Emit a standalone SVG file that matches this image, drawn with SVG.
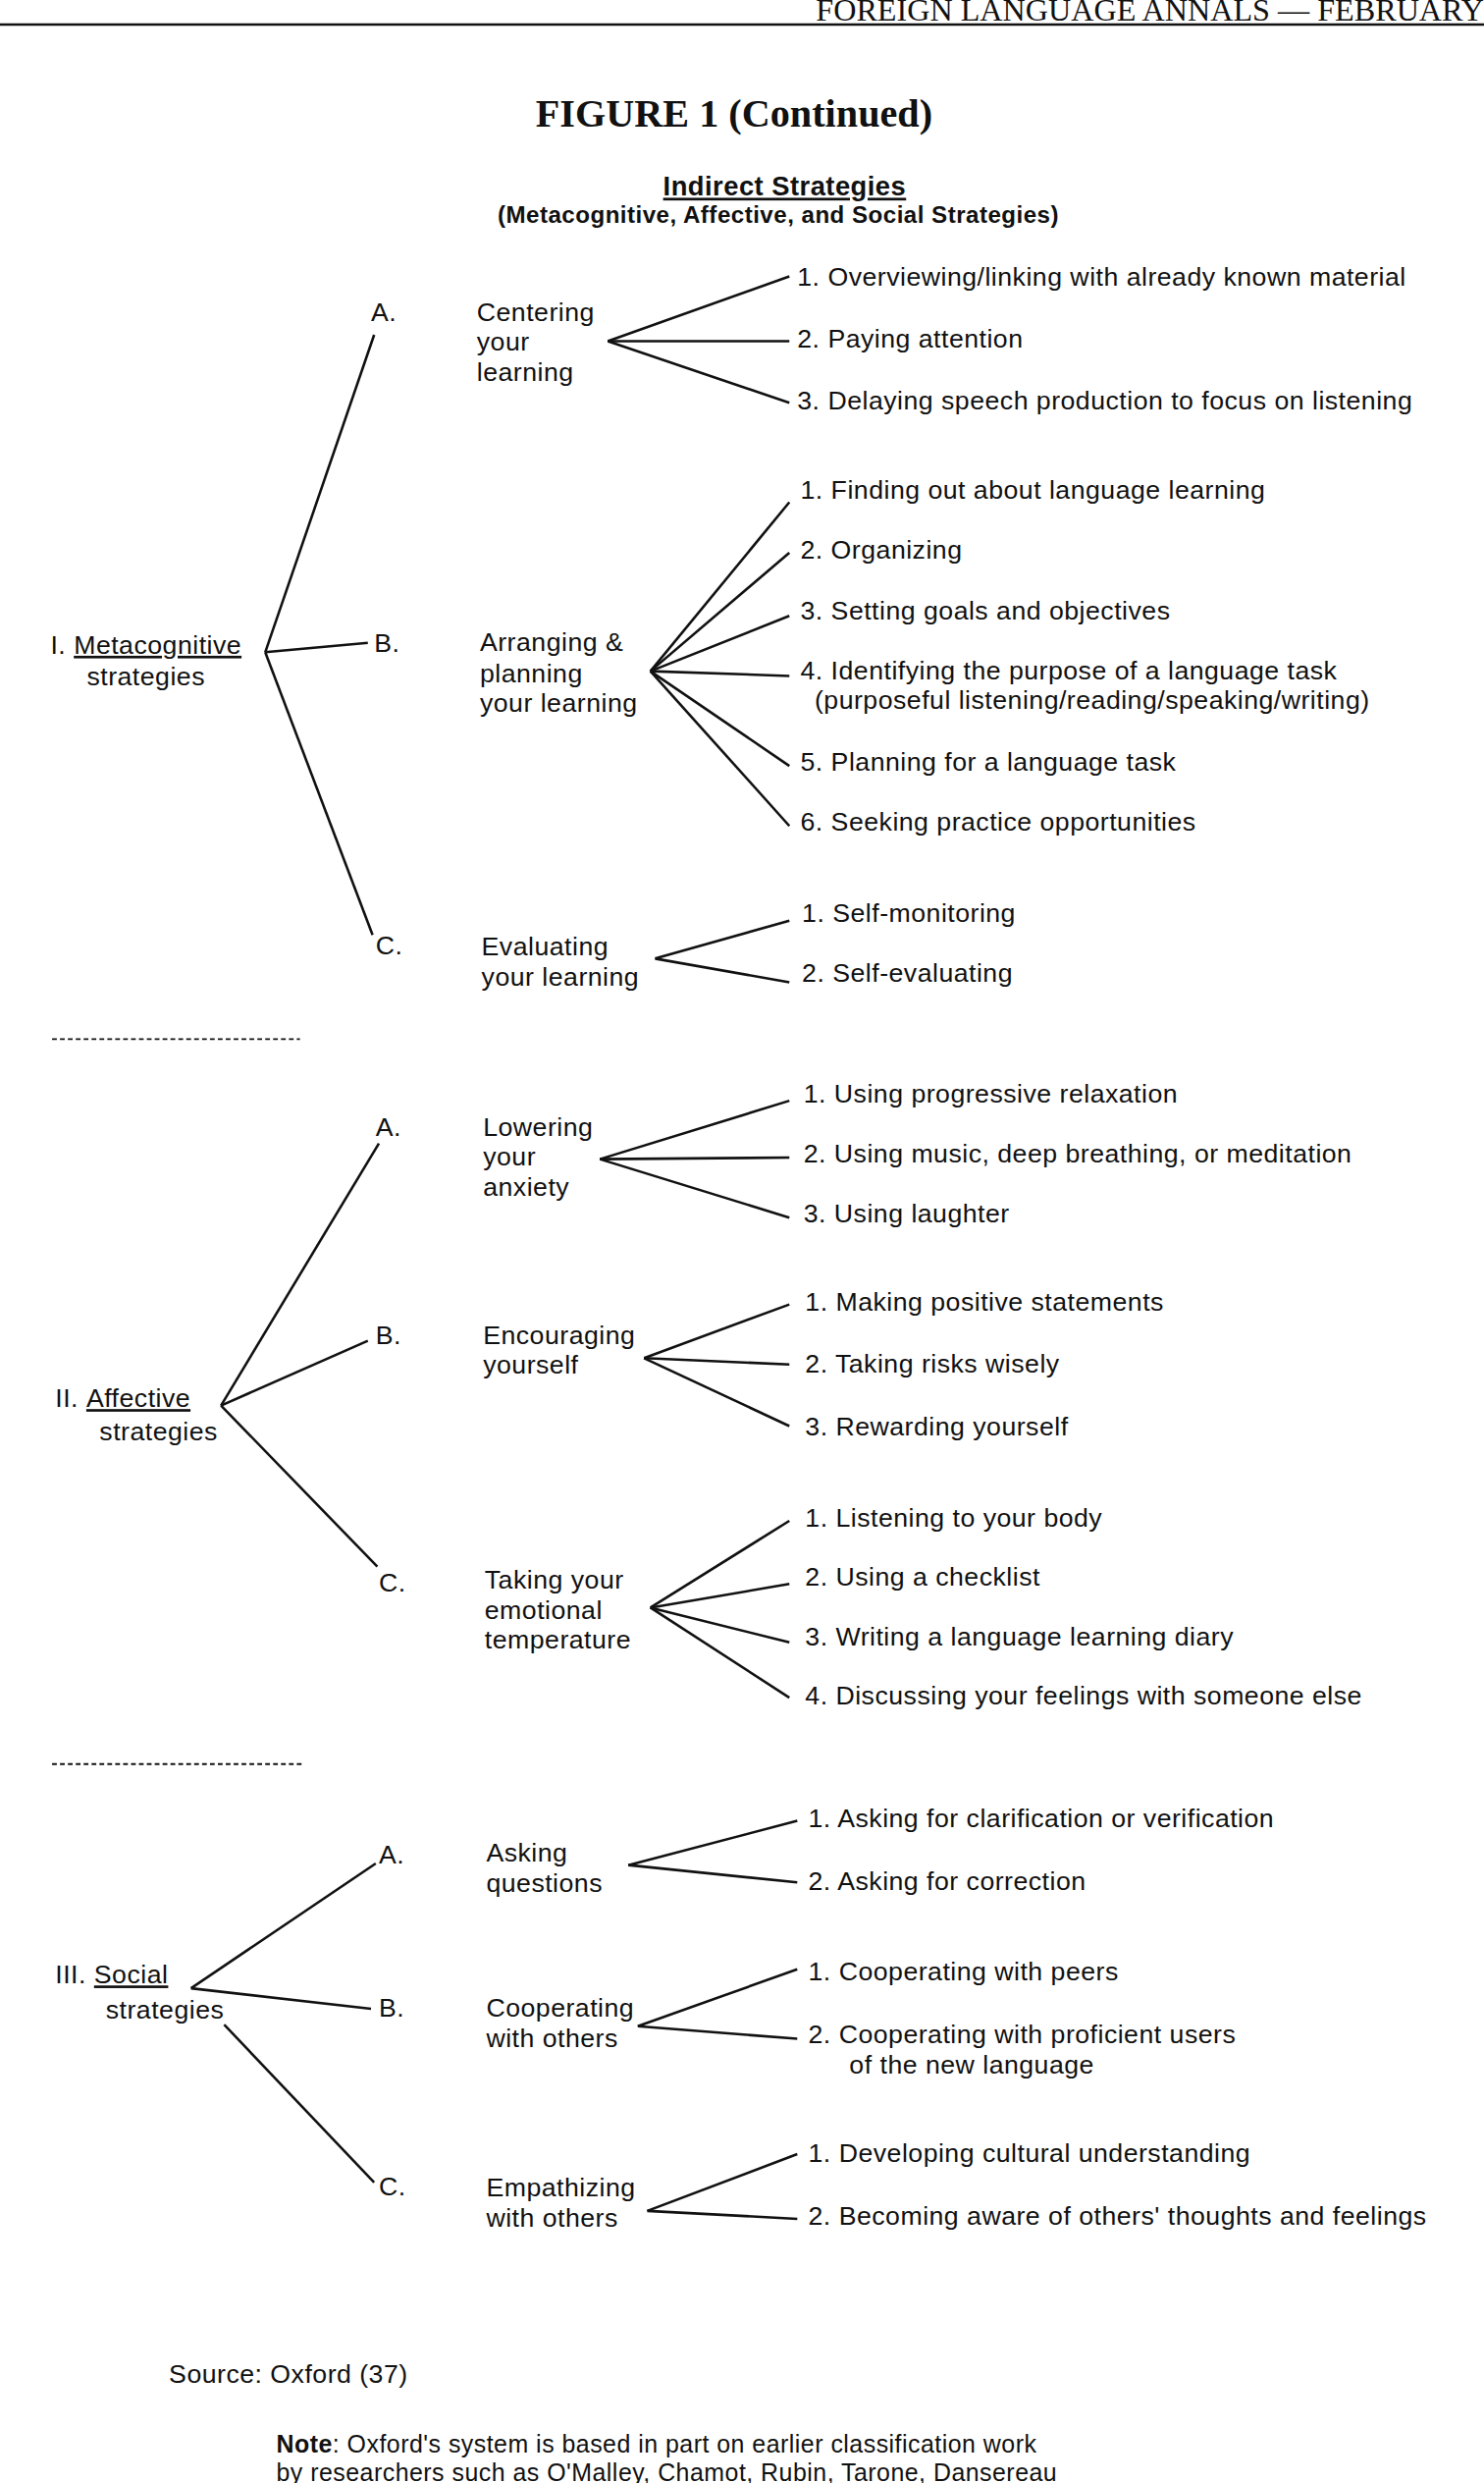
<svg xmlns="http://www.w3.org/2000/svg" width="1512" height="2529" viewBox="0 0 1512 2529">
<style>
text{font-family:"Liberation Sans",Arial,sans-serif;font-size:16.6px;letter-spacing:0.3px;fill:#111}
.ser{font-family:"Liberation Serif","Times New Roman",serif;letter-spacing:0}
.b{font-weight:bold}
.hd{font-size:20px}
.tt{font-size:25px}
.st{font-size:17px}
.sub{font-size:15px}
.nt{font-size:15.5px}
line,polyline{stroke:#111;stroke-width:1.6;fill:none}
.dash{stroke-dasharray:3 2;stroke-width:1.2}
</style>
<rect width="1512" height="2529" fill="#fff"/>
<g transform="scale(1.6085)">
<g id="header">
<text class="ser hd" x="940" y="13" text-anchor="end">FOREIGN LANGUAGE ANNALS — FEBRUARY</text>
<line x1="0" y1="15.5" x2="940" y2="15.5" stroke-width="1"/>
<text class="ser b tt" x="465" y="80" text-anchor="middle">FIGURE 1 (Continued)</text>
<text class="b st" x="497" y="124" text-anchor="middle" text-decoration="underline">Indirect  Strategies</text>
<text class="b sub" x="493" y="141" text-anchor="middle">(Metacognitive,  Affective,  and  Social  Strategies)</text>
</g>
<g id="connectors">
<line x1="168" y1="413" x2="237" y2="212"/>
<line x1="168" y1="413" x2="233" y2="407"/>
<line x1="168" y1="413" x2="236" y2="592"/>
<line x1="385" y1="216" x2="500" y2="175"/><line x1="385" y1="216" x2="500" y2="216"/><line x1="385" y1="216" x2="500" y2="255"/>
<line x1="412" y1="425" x2="500" y2="318"/><line x1="412" y1="425" x2="500" y2="350"/><line x1="412" y1="425" x2="500" y2="390"/><line x1="412" y1="425" x2="500" y2="428"/><line x1="412" y1="425" x2="500" y2="485"/><line x1="412" y1="425" x2="500" y2="523"/>
<line x1="415" y1="607" x2="500" y2="583"/><line x1="415" y1="607" x2="500" y2="622"/>
<line class="dash" x1="33" y1="658" x2="190" y2="658"/>
<line x1="140" y1="890" x2="240" y2="724"/>
<line x1="140" y1="890" x2="233" y2="849"/>
<line x1="140" y1="890" x2="239" y2="992"/>
<line x1="380" y1="734" x2="500" y2="697"/><line x1="380" y1="734" x2="500" y2="733"/><line x1="380" y1="734" x2="500" y2="771"/>
<line x1="408" y1="860" x2="500" y2="826"/><line x1="408" y1="860" x2="500" y2="864"/><line x1="408" y1="860" x2="500" y2="903"/>
<line x1="412" y1="1018" x2="500" y2="963"/><line x1="412" y1="1018" x2="500" y2="1003"/><line x1="412" y1="1018" x2="500" y2="1040"/><line x1="412" y1="1018" x2="500" y2="1075"/>
<line class="dash" x1="33" y1="1117" x2="192" y2="1117"/>
<line x1="121" y1="1259" x2="238" y2="1180"/>
<line x1="121" y1="1259" x2="235" y2="1272"/>
<line x1="142" y1="1282" x2="237" y2="1382"/>
<line x1="398" y1="1181" x2="505" y2="1153"/><line x1="398" y1="1181" x2="505" y2="1192"/>
<line x1="404" y1="1283" x2="505" y2="1247"/><line x1="404" y1="1283" x2="505" y2="1291"/>
<line x1="410" y1="1400" x2="505" y2="1364"/><line x1="410" y1="1400" x2="505" y2="1405"/>
</g>
<g id="sec1">
<text x="32" y="414">I.  <tspan text-decoration="underline">Metacognitive</tspan></text>
<text x="55" y="434">strategies</text>
<text x="235" y="203">A.</text><text x="237" y="413">B.</text><text x="238" y="604">C.</text>
<text x="302" y="203">Centering</text><text x="302" y="222">your</text><text x="302" y="241">learning</text>
<text x="505" y="181">1.  Overviewing/linking with already known material</text>
<text x="505" y="220">2.  Paying attention</text>
<text x="505" y="259">3.  Delaying speech production to focus on listening</text>
<text x="304" y="412">Arranging &amp;</text><text x="304" y="432">planning</text><text x="304" y="451">your learning</text>
<text x="507" y="316">1.  Finding out about language learning</text>
<text x="507" y="354">2.  Organizing</text>
<text x="507" y="392">3.  Setting goals and objectives</text>
<text x="507" y="430">4.  Identifying the purpose of a language task</text>
<text x="516" y="449">(purposeful listening/reading/speaking/writing)</text>
<text x="507" y="488">5.  Planning for a language task</text>
<text x="507" y="526">6.  Seeking practice opportunities</text>
<text x="305" y="605">Evaluating</text><text x="305" y="624">your learning</text>
<text x="508" y="584">1.  Self-monitoring</text>
<text x="508" y="622">2.  Self-evaluating</text>
</g>
<g id="sec2">
<text x="35" y="891">II.  <tspan text-decoration="underline">Affective</tspan></text>
<text x="63" y="912">strategies</text>
<text x="238" y="719">A.</text><text x="238" y="851">B.</text><text x="240" y="1008">C.</text>
<text x="306" y="719">Lowering</text><text x="306" y="738">your</text><text x="306" y="757">anxiety</text>
<text x="509" y="698">1.  Using progressive relaxation</text>
<text x="509" y="736">2.  Using music, deep breathing, or meditation</text>
<text x="509" y="774">3.  Using laughter</text>
<text x="306" y="851">Encouraging</text><text x="306" y="870">yourself</text>
<text x="510" y="830">1.  Making positive statements</text>
<text x="510" y="869">2.  Taking risks wisely</text>
<text x="510" y="909">3.  Rewarding yourself</text>
<text x="307" y="1006">Taking your</text><text x="307" y="1025">emotional</text><text x="307" y="1044">temperature</text>
<text x="510" y="967">1.  Listening to your body</text>
<text x="510" y="1004">2.  Using a checklist</text>
<text x="510" y="1042">3.  Writing a language learning diary</text>
<text x="510" y="1079">4.  Discussing your feelings with someone else</text>
</g>
<g id="sec3">
<text x="35" y="1256">III.  <tspan text-decoration="underline">Social</tspan></text>
<text x="67" y="1278">strategies</text>
<text x="240" y="1180">A.</text><text x="240" y="1277">B.</text><text x="240" y="1390">C.</text>
<text x="308" y="1179">Asking</text><text x="308" y="1198">questions</text>
<text x="512" y="1157">1.  Asking for clarification or verification</text>
<text x="512" y="1197">2.  Asking for correction</text>
<text x="308" y="1277">Cooperating</text><text x="308" y="1296">with others</text>
<text x="512" y="1254">1.  Cooperating with peers</text>
<text x="512" y="1294">2.  Cooperating with proficient users</text>
<text x="538" y="1313">of the new language</text>
<text x="308" y="1391">Empathizing</text><text x="308" y="1410">with others</text>
<text x="512" y="1369">1.  Developing cultural understanding</text>
<text x="512" y="1409">2.  Becoming aware of others' thoughts and feelings</text>
</g>
<g id="notes">
<text x="107" y="1509">Source:  Oxford (37)</text>
<text class="nt" x="175" y="1553"><tspan class="b">Note</tspan>:  Oxford's system is based in part on earlier classification work</text>
<text class="nt" x="175" y="1571">by researchers such as O'Malley, Chamot, Rubin, Tarone, Dansereau</text>
</g>
</g>
</svg>
